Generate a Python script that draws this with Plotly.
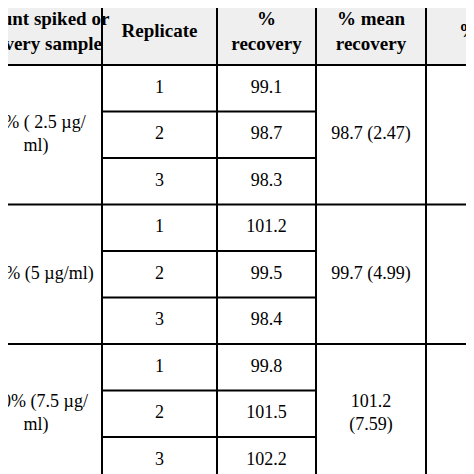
import plotly.graph_objects as go

headers = ["Amount spiked or<br>recovery sample", "Replicate", "%<br>recovery", "% mean<br>recovery", "% RSD"]
levels = ["50% ( 2.5 µg/<br>ml)", "100% (5 µg/ml)", "150% (7.5 µg/<br>ml)"]
replicates = ["1", "2", "3"]
recovery = [[99.1, 98.7, 98.3], [101.2, 99.5, 98.4], [99.8, 101.5, 102.2]]
mean_recovery = ["98.7 (2.47)", "99.7 (4.99)", "101.2<br>(7.59)"]
rsd = ["0.40", "1.39", "1.21"]

col_edges = [-160, 102, 217, 316, 426, 560]
header_h = 65
row_h = 46.5
centers = [(col_edges[i] + col_edges[i + 1]) / 2 for i in range(5)]
centers[0] = 36
centers[4] = 490

fig = go.Figure()
shapes = []
bottom = header_h + row_h * 9
shapes.append(dict(type="rect", x0=-200, x1=600, y0=-10, y1=header_h, fillcolor="#efefef", line_width=0, layer="below"))
for x in col_edges[1:5]:
    shapes.append(dict(type="line", x0=x, x1=x, y0=-10, y1=bottom + 20, line=dict(color="black", width=2)))
shapes.append(dict(type="line", x0=-200, x1=600, y0=header_h, y1=header_h, line=dict(color="black", width=2)))
for g in range(3):
    yb = header_h + row_h * 3 * (g + 1)
    shapes.append(dict(type="line", x0=-200, x1=600, y0=yb, y1=yb, line=dict(color="black", width=2)))
    for r in range(1, 3):
        y = header_h + row_h * (3 * g + r)
        shapes.append(dict(type="line", x0=col_edges[1], x1=col_edges[3], y0=y, y1=y, line=dict(color="black", width=2)))

serif = "Liberation Serif, Times New Roman, DejaVu Serif, serif"
font = dict(family=serif, size=18, color="black")
hfont = dict(family=serif, size=19, color="black")
fig.add_trace(go.Scatter(x=centers, y=[header_h / 2] * 5, mode="text",
                         text=["<b>" + h + "</b>" for h in headers], textfont=hfont, hoverinfo="skip"))
xs, ys, ts = [], [], []
for g in range(3):
    gc = header_h + row_h * (3 * g + 1.5)
    xs += [centers[0], centers[3], centers[4]]
    ys += [gc, gc, gc]
    ts += [levels[g], mean_recovery[g], rsd[g]]
    for r in range(3):
        yc = header_h + row_h * (3 * g + r + 0.5)
        xs += [centers[1], centers[2]]
        ys += [yc, yc]
        ts += [replicates[r], f"{recovery[g][r]:.1f}"]
fig.add_trace(go.Scatter(x=xs, y=ys, mode="text", text=ts, textfont=font, hoverinfo="skip", cliponaxis=True))

fig.update_layout(width=474, height=474, margin=dict(l=0, r=0, t=0, b=0),
                  plot_bgcolor="white", paper_bgcolor="white", showlegend=False, shapes=shapes,
                  font=dict(family=serif),
                  xaxis=dict(range=[8, 482], visible=False, fixedrange=True),
                  yaxis=dict(range=[482, 8], visible=False, fixedrange=True))
fig.write_html("out.html")
